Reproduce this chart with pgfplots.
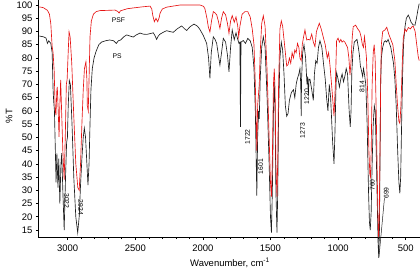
\documentclass[border=0pt]{standalone}
\usepackage{pgfplots}
\pgfplotsset{compat=1.18}
\usepackage{fontspec}
\setmainfont{Liberation Sans}
\definecolor{psred}{RGB}{230,20,20}
\definecolor{psblack}{RGB}{30,30,30}
\begin{document}
\begin{tikzpicture}
\begin{axis}[
  at={(0,0)}, anchor=south west,
  scale only axis, width=381.5bp, height=237.7bp,
  x dir=reverse, xmin=394, xmax=3216, ymin=12.1, ymax=101.9,
  axis x line=bottom, axis y line=left, axis line style={-, line width=0.8bp},
  xtick={500,1000,...,3000}, minor x tick num=4,
  ytick={15,20,...,100},
  tick align=outside, major tick length=2.5bp, minor tick length=1.5bp,
  tick style={line width=0.6bp, black},
  clip=false,
  /pgf/number format/assume math mode=true,
  /pgf/number format/set thousands separator={},
  ticklabel style={font=\fontsize{9.5}{11}\selectfont},
  xticklabel style={yshift=-1bp},
  xlabel={Wavenumber, cm\textsuperscript{-1}},
  xlabel style={at={(rel axis cs:0.502,0)}, anchor=center, yshift=-25.5bp, font=\fontsize{9.5}{11}\selectfont},
  ylabel={\%T},
  ylabel style={at={(rel axis cs:-0.0773,0.512)}, anchor=center, font=\fontsize{9.5}{11}\selectfont},
]
% PS (black)
\addplot[psblack, line width=0.65bp] coordinates {
(3210,88.3)(3180,88.0)(3160,87.5)(3150,85.5)(3140,86.5)(3125,85.5)(3115,82)(3108,68)(3104,64)(3098,60)
(3086,33)(3080,44)(3072,31)(3066,42)(3058,25)(3050,40)(3044,44)(3036,30)(3026,15)(3016,35)
(3008,48)(3002,50)(2996,62)(2988,71.5)(2980,70)(2968,55)(2955,35)(2940,20)(2926,14)(2915,20)
(2905,32)(2895,42)(2885,50)(2877,53.5)(2868,50)(2858,40)(2850,32)(2842,40)(2835,55)(2828,68)
(2818,76)(2805,80)(2790,82.5)(2770,85)(2750,86)(2720,86.5)(2690,86.8)(2660,86.5)(2640,85.5)(2625,86.5)
(2608,86.8)(2585,88)(2564,88.7)(2540,88.3)(2515,87.9)(2490,88.8)(2465,89.4)(2440,89)(2416,88.9)(2390,89.2)
(2367,89.5)(2355,88.5)(2342,87)(2330,88.3)(2317,89)(2290,89.8)(2268,90.3)(2245,90)(2219,89.7)(2190,91)
(2157,92.1)(2135,91)(2120,90.4)(2095,91.8)(2066,92.8)(2040,92)(2022,90.8)(1997,88.5)(1972,85.5)(1958,80)
(1948,72.3)(1938,82)(1923,88)(1910,87)(1898,85.5)(1885,81)(1874,77.3)(1862,82)(1849,87.4)(1832,86)
(1818,81)(1807,74.8)(1795,84)(1783,90.6)(1768,86.9)(1755,89.5)(1742,87)(1733,85.5)(1726,86)(1722,54)
(1718,86)(1701,86.6)(1685,85.5)(1668,87.4)(1650,86.5)(1635,84)(1622,76)(1612,60)(1601,28)(1595,50)
(1588,60)(1583,57)(1576,72)(1565,84)(1553,88)(1540,84)(1525,65)(1510,40)(1500,20)(1493,14)
(1486,30)(1478,60)(1472,71)(1466,60)(1460,30)(1452,14)(1446,30)(1440,60)(1430,80)(1420,86)
(1410,83)(1400,74)(1390,62)(1380,58)(1370,59)(1360,64)(1345,67)(1330,68)(1320,65)(1310,70)
(1302,72)(1290,74)(1282,76)(1276,70)(1273,58)(1270,72)(1262,82)(1252,85)(1240,80)(1230,70)
(1225,73)(1220,66)(1215,72)(1208,72)(1195,68)(1183,64)(1175,74)(1165,79)(1155,78)(1145,84)
(1134,86.5)(1120,84)(1108,78)(1095,72)(1085,65)(1075,60)(1065,70)(1055,65)(1040,48)(1030,40)
(1023,52)(1015,70)(1011,74.5)(1000,72)(990,69)(980,72)(970,74)(960,71)(950,73)(940,76)
(930,74)(918,60)(910,54)(904,60)(898,75)(890,82)(880,86)(870,86.5)(860,87)(850,84)
(842,81)(835,77)(826,75)(818,73)(812,76)(805,74)(795,70)(785,55)(775,30)(768,18)
(762,15)(755,22)(748,40)(740,55)(732,62)(725,60)(718,45)(710,25)(704,10)(699,4.5)
(694,15)(690,40)(685,70)(680,80)(670,84)(660,86)(650,86.5)(641,86)(630,87)(620,85.5)
(610,84)(600,81)(590,78)(580,72)(570,62)(560,46)(550,33)(543,28.9)(537,35)(530,55)
(522,75)(515,86)(505,91.8)(495,95)(481,96.2)(470,95)(460,93.5)(445,92.5)(431,92.4)(420,95)
(410,98)(400,100.5)
};
% PSF (red)
\addplot[psred, line width=0.65bp] coordinates {
(3210,99.3)(3180,99)(3150,98)(3135,96.5)(3125,93)(3115,84.3)(3108,82)(3100,75)(3092,60)(3087,58.4)
(3080,68)(3077,69.1)(3070,60)(3064,50.2)(3058,62)(3052,71.7)(3045,60)(3036,45)(3026,34)(3018,50)
(3010,70)(3004,72)(2998,80)(2990,89.9)(2982,88)(2970,78)(2955,58)(2940,40)(2925,31)(2915,30)
(2905,40)(2895,55)(2885,68)(2876,76)(2865,78.6)(2858,72)(2855,62)(2848,60)(2842,72)(2835,88)
(2825,94)(2810,96.5)(2790,97.5)(2761,97.9)(2700,98)(2650,98.1)(2630,97.6)(2620,97)(2610,97.8)(2560,98.6)
(2515,98.9)(2450,99.3)(2391,99.6)(2378,98.5)(2371,96.2)(2359,93.7)(2347,95)(2334,93.7)(2322,95.5)(2317,96.9)
(2300,98.5)(2268,99.2)(2220,99.6)(2169,100)(2100,100)(2021,100)(1995,99.5)(1985,98.6)(1970,95)(1960,91.8)
(1948,89.8)(1936,94)(1923,97.5)(1910,97)(1898,96.3)(1886,94)(1874,91.2)(1862,95)(1849,97.5)(1832,96.3)
(1818,93)(1807,89.3)(1795,94)(1783,96)(1768,93.5)(1755,95.5)(1742,92)(1735,88)(1726,92)(1710,96.5)
(1689,97.5)(1668,97.5)(1650,95.5)(1635,91)(1622,85)(1612,70)(1601,45)(1595,62)(1583,70)(1576,82)
(1565,93)(1553,96)(1540,92)(1525,75)(1510,50)(1500,33)(1493,27.6)(1486,42)(1478,70)(1472,76)
(1466,68)(1460,40)(1452,27.6)(1446,42)(1440,70)(1430,91)(1420,94)(1410,92)(1400,87)(1390,82)
(1380,77)(1370,77.5)(1360,80)(1350,78)(1340,82)(1330,80)(1320,83)(1310,82)(1300,85.5)(1290,84)
(1282,80)(1273,79)(1265,85)(1255,88)(1245,90.6)(1232,86.8)(1220,87)(1208,86.8)(1195,89)(1183,86)
(1171,84.3)(1160,90)(1139,93.1)(1125,91)(1110,88)(1095,85)(1080,80)(1070,82)(1060,77.3)(1045,68)
(1030,58)(1020,70)(1011,86.5)(1000,87.5)(990,86)(980,87)(970,86)(960,86.5)(950,86)(940,85)
(930,84)(920,80)(912,73.5)(905,78)(895,88)(888,91.8)(870,92.4)(855,91)(840,90)(830,88)
(820,85)(812,84)(805,88)(800,86)(790,80)(780,65)(772,45)(765,36)(760,35)(755,45)
(748,70)(740,82)(733,85)(726,80)(718,60)(710,35)(704,18)(700,12.2)(695,20)(690,45)
(685,70)(680,85)(670,90)(653,90.6)(640,91.6)(625,89)(610,87)(595,85)(580,79)(570,70)
(560,62)(550,56)(543,55.3)(535,62)(525,78)(518,87.4)(505,91)(495,90)(480,91.5)(465,91)
(450,92)(444,92)(430,90)(418,85)(407,80.5)(400,79)
};
% annotations
\draw[psblack, line width=0.5bp] (axis cs:697,5) -- (axis cs:657,27);
\begin{scope}[font=\fontsize{6.8}{8}\selectfont, inner sep=0pt]
\node[rotate=-90] at (axis cs:3007,26) {3022};
\node[rotate=-90] at (axis cs:2903,23.5) {2924};
\node[rotate=90] at (axis cs:1670,50.2) {1722};
\node[rotate=90] at (axis cs:1572,38.9) {1601};
\node[rotate=90] at (axis cs:1263,52.5) {1273};
\node[rotate=90] at (axis cs:1232,65.4) {1220};
\node[rotate=90] at (axis cs:823,69.1) {814};
\node[rotate=90] at (axis cs:746,32) {760};
\node[rotate=90] at (axis cs:644,29) {699};
\node at (axis cs:2624,94.3) {PSF};
\node at (axis cs:2634,80.5) {PS};
\end{scope}
\end{axis}
\pgfresetboundingbox
\useasboundingbox (-38.5bp,-33.3bp) rectangle (381.5bp,237.7bp);
\end{tikzpicture}
\end{document}
